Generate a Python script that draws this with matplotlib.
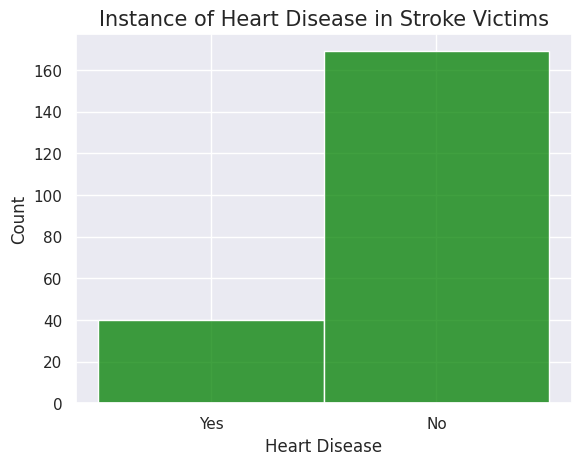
import matplotlib
matplotlib.use("Agg")
import matplotlib.pyplot as plt
import seaborn as sns
import pandas as pd

# counts
categorias = ["Yes", "No"]
contagens = [40, 169]

sns.set_theme()

df = pd.DataFrame({"Heart Disease": categorias, "n": contagens})

fig, ax = plt.subplots(figsize=(6.4, 4.8), dpi=100)
sns.histplot(data=df, x="Heart Disease", weights="n", color="green", ax=ax)
ax.set_title("Instance of Heart Disease in Stroke Victims", fontsize=15)
ax.set_ylabel("Count")

plt.savefig("out.png", bbox_inches="tight")
